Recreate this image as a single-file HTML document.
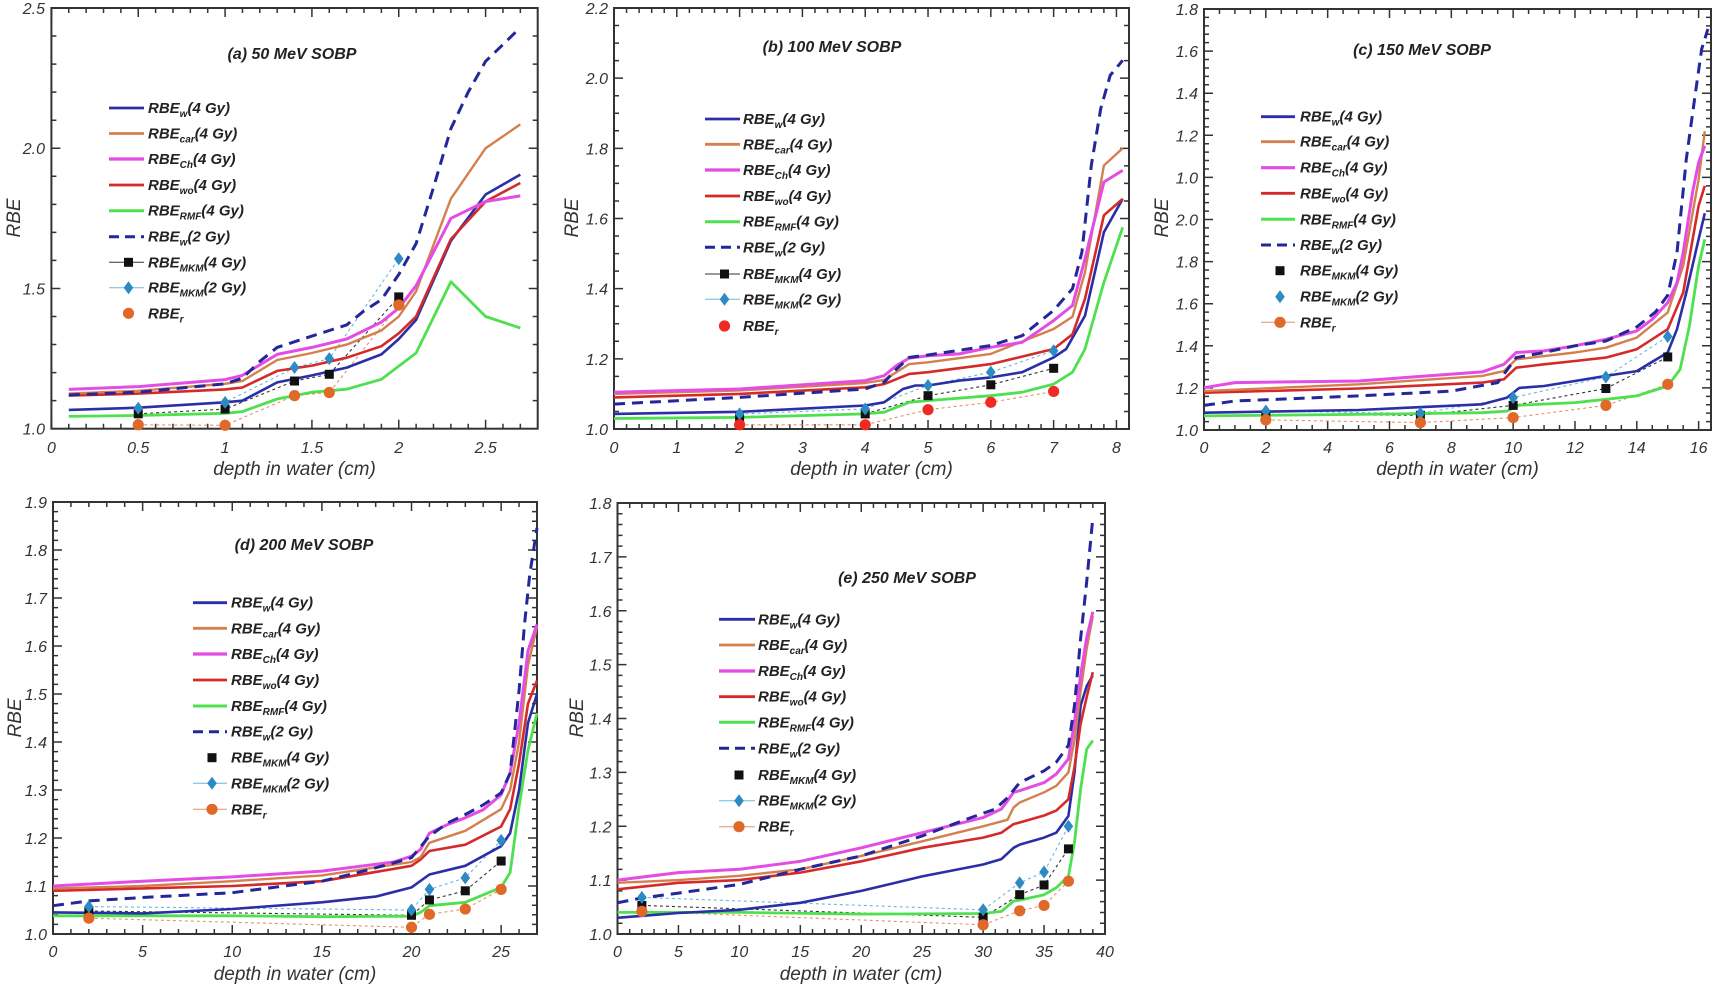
<!DOCTYPE html>
<html><head><meta charset="utf-8"><style>
html,body{margin:0;padding:0;background:#fff;}
svg{display:block;}
.t{font-family:"Liberation Sans",Arial,sans-serif;font-style:italic;font-size:16px;fill:#333;}
.xl{text-anchor:middle;}
.yl{text-anchor:end;}
.ax{font-family:"Liberation Sans",Arial,sans-serif;font-style:italic;font-size:19px;fill:#333;text-anchor:middle;}
.ti{font-family:"Liberation Sans",Arial,sans-serif;font-style:italic;font-weight:bold;font-size:16px;fill:#222;text-anchor:middle;}
.lg{font-family:"Liberation Sans",Arial,sans-serif;font-style:italic;font-weight:bold;font-size:15px;fill:#222;}
.sb{font-size:10px;}
</style></head><body>
<svg id="s" xmlns="http://www.w3.org/2000/svg" width="1716" height="987" viewBox="0 0 1716 987">
<rect width="1716" height="987" fill="#fff"/>
<g id="geom"></g>
<g id="txt">
<!-- Panel A -->
<text class="t xl" x="51.4" y="453">0</text><text class="t xl" x="138.3" y="453">0.5</text><text class="t xl" x="225.1" y="453">1</text><text class="t xl" x="312" y="453">1.5</text><text class="t xl" x="398.8" y="453">2</text><text class="t xl" x="485.7" y="453">2.5</text>
<text class="t yl" x="45" y="14">2.5</text><text class="t yl" x="45" y="154.2">2.0</text><text class="t yl" x="45" y="294.5">1.5</text><text class="t yl" x="45" y="434.7">1.0</text>
<text class="ax" x="294.5" y="475">depth in water (cm)</text>
<text class="ax" transform="translate(20,218) rotate(-90)">RBE</text>
<text class="ti" x="292" y="59">(a) 50 MeV SOBP</text>
<!-- Panel B -->
<text class="t xl" x="614" y="453">0</text><text class="t xl" x="676.8" y="453">1</text><text class="t xl" x="739.6" y="453">2</text><text class="t xl" x="802.4" y="453">3</text><text class="t xl" x="865.2" y="453">4</text><text class="t xl" x="928" y="453">5</text><text class="t xl" x="990.8" y="453">6</text><text class="t xl" x="1053.6" y="453">7</text><text class="t xl" x="1116.4" y="453">8</text>
<text class="t yl" x="608" y="14">2.2</text><text class="t yl" x="608" y="84.2">2.0</text><text class="t yl" x="608" y="154.3">1.8</text><text class="t yl" x="608" y="224.5">1.6</text><text class="t yl" x="608" y="294.7">1.4</text><text class="t yl" x="608" y="364.8">1.2</text><text class="t yl" x="608" y="435">1.0</text>
<text class="ax" x="871.5" y="475">depth in water (cm)</text>
<text class="ax" transform="translate(578,218) rotate(-90)">RBE</text>
<text class="ti" x="832" y="52">(b) 100 MeV SOBP</text>
<!-- Panel C -->
<text class="t xl" x="1204" y="453">0</text><text class="t xl" x="1265.8" y="453">2</text><text class="t xl" x="1327.6" y="453">4</text><text class="t xl" x="1389.5" y="453">6</text><text class="t xl" x="1451.3" y="453">8</text><text class="t xl" x="1513.1" y="453">10</text><text class="t xl" x="1574.9" y="453">12</text><text class="t xl" x="1636.7" y="453">14</text><text class="t xl" x="1698.6" y="453">16</text>
<text class="t yl" x="1198" y="15">1.8</text><text class="t yl" x="1198" y="57.1">1.6</text><text class="t yl" x="1198" y="99.2">1.4</text><text class="t yl" x="1198" y="141.3">1.2</text><text class="t yl" x="1198" y="183.4">1.0</text><text class="t yl" x="1198" y="225.5">2.0</text><text class="t yl" x="1198" y="267.6">1.8</text><text class="t yl" x="1198" y="309.7">1.6</text><text class="t yl" x="1198" y="351.8">1.4</text><text class="t yl" x="1198" y="393.9">1.2</text><text class="t yl" x="1198" y="436">1.0</text>
<text class="ax" x="1457.5" y="475">depth in water (cm)</text>
<text class="ax" transform="translate(1168,218) rotate(-90)">RBE</text>
<text class="ti" x="1422" y="55">(c) 150 MeV SOBP</text>
<!-- Panel D -->
<text class="t xl" x="53" y="957">0</text><text class="t xl" x="142.6" y="957">5</text><text class="t xl" x="232.3" y="957">10</text><text class="t xl" x="321.9" y="957">15</text><text class="t xl" x="411.5" y="957">20</text><text class="t xl" x="501.1" y="957">25</text>
<text class="t yl" x="47" y="508">1.9</text><text class="t yl" x="47" y="556">1.8</text><text class="t yl" x="47" y="604">1.7</text><text class="t yl" x="47" y="652">1.6</text><text class="t yl" x="47" y="700">1.5</text><text class="t yl" x="47" y="748">1.4</text><text class="t yl" x="47" y="796">1.3</text><text class="t yl" x="47" y="844">1.2</text><text class="t yl" x="47" y="892">1.1</text><text class="t yl" x="47" y="940">1.0</text>
<text class="ax" x="295" y="980">depth in water (cm)</text>
<text class="ax" transform="translate(21,718) rotate(-90)">RBE</text>
<text class="ti" x="304" y="550">(d) 200 MeV SOBP</text>
<!-- Panel E -->
<text class="t xl" x="617.5" y="957">0</text><text class="t xl" x="678.4" y="957">5</text><text class="t xl" x="739.4" y="957">10</text><text class="t xl" x="800.3" y="957">15</text><text class="t xl" x="861.3" y="957">20</text><text class="t xl" x="922.2" y="957">25</text><text class="t xl" x="983.1" y="957">30</text><text class="t xl" x="1044.1" y="957">35</text><text class="t xl" x="1105" y="957">40</text>
<text class="t yl" x="611.5" y="509">1.8</text><text class="t yl" x="611.5" y="562.9">1.7</text><text class="t yl" x="611.5" y="616.8">1.6</text><text class="t yl" x="611.5" y="670.6">1.5</text><text class="t yl" x="611.5" y="724.5">1.4</text><text class="t yl" x="611.5" y="778.4">1.3</text><text class="t yl" x="611.5" y="832.3">1.2</text><text class="t yl" x="611.5" y="886.1">1.1</text><text class="t yl" x="611.5" y="940">1.0</text>
<text class="ax" x="861" y="980">depth in water (cm)</text>
<text class="ax" transform="translate(583,718) rotate(-90)">RBE</text>
<text class="ti" x="907" y="583">(e) 250 MeV SOBP</text>

<!-- Legend A -->
<g class="lg">
<text x="148" y="113">RBE<tspan class="sb" dy="4">w</tspan><tspan dy="-4">(4 Gy)</tspan></text>
<text x="148" y="138.5">RBE<tspan class="sb" dy="4">car</tspan><tspan dy="-4">(4 Gy)</tspan></text>
<text x="148" y="164">RBE<tspan class="sb" dy="4">Ch</tspan><tspan dy="-4">(4 Gy)</tspan></text>
<text x="148" y="190">RBE<tspan class="sb" dy="4">wo</tspan><tspan dy="-4">(4 Gy)</tspan></text>
<text x="148" y="215.7">RBE<tspan class="sb" dy="4">RMF</tspan><tspan dy="-4">(4 Gy)</tspan></text>
<text x="148" y="241.7">RBE<tspan class="sb" dy="4">w</tspan><tspan dy="-4">(2 Gy)</tspan></text>
<text x="148" y="267.3">RBE<tspan class="sb" dy="4">MKM</tspan><tspan dy="-4">(4 Gy)</tspan></text>
<text x="148" y="292.7">RBE<tspan class="sb" dy="4">MKM</tspan><tspan dy="-4">(2 Gy)</tspan></text>
<text x="148" y="318.3">RBE<tspan class="sb" dy="4">r</tspan></text>
</g>
<!-- Legend B -->
<g class="lg">
<text x="743" y="124">RBE<tspan class="sb" dy="4">w</tspan><tspan dy="-4">(4 Gy)</tspan></text>
<text x="743" y="149.3">RBE<tspan class="sb" dy="4">car</tspan><tspan dy="-4">(4 Gy)</tspan></text>
<text x="743" y="175">RBE<tspan class="sb" dy="4">Ch</tspan><tspan dy="-4">(4 Gy)</tspan></text>
<text x="743" y="201">RBE<tspan class="sb" dy="4">wo</tspan><tspan dy="-4">(4 Gy)</tspan></text>
<text x="743" y="226.7">RBE<tspan class="sb" dy="4">RMF</tspan><tspan dy="-4">(4 Gy)</tspan></text>
<text x="743" y="252.3">RBE<tspan class="sb" dy="4">w</tspan><tspan dy="-4">(2 Gy)</tspan></text>
<text x="743" y="279">RBE<tspan class="sb" dy="4">MKM</tspan><tspan dy="-4">(4 Gy)</tspan></text>
<text x="743" y="304.3">RBE<tspan class="sb" dy="4">MKM</tspan><tspan dy="-4">(2 Gy)</tspan></text>
<text x="743" y="331">RBE<tspan class="sb" dy="4">r</tspan></text>
</g>
<!-- Legend C -->
<g class="lg">
<text x="1300" y="121.7">RBE<tspan class="sb" dy="4">w</tspan><tspan dy="-4">(4 Gy)</tspan></text>
<text x="1300" y="146.7">RBE<tspan class="sb" dy="4">car</tspan><tspan dy="-4">(4 Gy)</tspan></text>
<text x="1300" y="172.7">RBE<tspan class="sb" dy="4">Ch</tspan><tspan dy="-4">(4 Gy)</tspan></text>
<text x="1300" y="198.3">RBE<tspan class="sb" dy="4">wo</tspan><tspan dy="-4">(4 Gy)</tspan></text>
<text x="1300" y="224.3">RBE<tspan class="sb" dy="4">RMF</tspan><tspan dy="-4">(4 Gy)</tspan></text>
<text x="1300" y="250">RBE<tspan class="sb" dy="4">w</tspan><tspan dy="-4">(2 Gy)</tspan></text>
<text x="1300" y="275.7">RBE<tspan class="sb" dy="4">MKM</tspan><tspan dy="-4">(4 Gy)</tspan></text>
<text x="1300" y="301.7">RBE<tspan class="sb" dy="4">MKM</tspan><tspan dy="-4">(2 Gy)</tspan></text>
<text x="1300" y="327.3">RBE<tspan class="sb" dy="4">r</tspan></text>
</g>
<!-- Legend D -->
<g class="lg">
<text x="231" y="607.7">RBE<tspan class="sb" dy="4">w</tspan><tspan dy="-4">(4 Gy)</tspan></text>
<text x="231" y="633.3">RBE<tspan class="sb" dy="4">car</tspan><tspan dy="-4">(4 Gy)</tspan></text>
<text x="231" y="659">RBE<tspan class="sb" dy="4">Ch</tspan><tspan dy="-4">(4 Gy)</tspan></text>
<text x="231" y="685">RBE<tspan class="sb" dy="4">wo</tspan><tspan dy="-4">(4 Gy)</tspan></text>
<text x="231" y="711">RBE<tspan class="sb" dy="4">RMF</tspan><tspan dy="-4">(4 Gy)</tspan></text>
<text x="231" y="736.7">RBE<tspan class="sb" dy="4">w</tspan><tspan dy="-4">(2 Gy)</tspan></text>
<text x="231" y="762.7">RBE<tspan class="sb" dy="4">MKM</tspan><tspan dy="-4">(4 Gy)</tspan></text>
<text x="231" y="788.3">RBE<tspan class="sb" dy="4">MKM</tspan><tspan dy="-4">(2 Gy)</tspan></text>
<text x="231" y="814.3">RBE<tspan class="sb" dy="4">r</tspan></text>
</g>
<!-- Legend E -->
<g class="lg">
<text x="758" y="624.3">RBE<tspan class="sb" dy="4">w</tspan><tspan dy="-4">(4 Gy)</tspan></text>
<text x="758" y="650">RBE<tspan class="sb" dy="4">car</tspan><tspan dy="-4">(4 Gy)</tspan></text>
<text x="758" y="676">RBE<tspan class="sb" dy="4">Ch</tspan><tspan dy="-4">(4 Gy)</tspan></text>
<text x="758" y="701.7">RBE<tspan class="sb" dy="4">wo</tspan><tspan dy="-4">(4 Gy)</tspan></text>
<text x="758" y="727.3">RBE<tspan class="sb" dy="4">RMF</tspan><tspan dy="-4">(4 Gy)</tspan></text>
<text x="758" y="753.3">RBE<tspan class="sb" dy="4">w</tspan><tspan dy="-4">(2 Gy)</tspan></text>
<text x="758" y="780">RBE<tspan class="sb" dy="4">MKM</tspan><tspan dy="-4">(4 Gy)</tspan></text>
<text x="758" y="805.7">RBE<tspan class="sb" dy="4">MKM</tspan><tspan dy="-4">(2 Gy)</tspan></text>
<text x="758" y="831.7">RBE<tspan class="sb" dy="4">r</tspan></text>
</g>
</g>
</svg>
<script>
(function(){
var NS='http://www.w3.org/2000/svg';
var G=document.getElementById('geom');
function el(tag,a,parent){var e=document.createElementNS(NS,tag);for(var k in a)e.setAttribute(k,a[k]);(parent||G).appendChild(e);return e;}
var C={blue:'#2a2fa8',orange:'#d4804e',mag:'#e44ce6',red:'#d42a2a',green:'#4ee04e',dash:'#23279a',dia:'#2c8ac4',circ:'#e0692a',circB:'#ee2a22',sq:'#111'};

var P={
A:{L:51.4,R:537.7,T:8,B:428.7,x0:0,x1:2.8,y0:1,y1:2.5,xmin:0.1,xmaj:0.5,ymin:0.1,ymaj:0.5,
 green:[[0.1,1.044],[0.5,1.047],[1.0,1.055],[1.1,1.061],[1.3,1.106],[1.5,1.13],[1.7,1.141],[1.9,1.176],[2.1,1.27],[2.3,1.524],[2.5,1.40],[2.7,1.359]],
 blue:[[0.1,1.067],[0.5,1.075],[1.0,1.094],[1.1,1.10],[1.3,1.165],[1.5,1.19],[1.7,1.218],[1.9,1.265],[2.0,1.32],[2.1,1.388],[2.3,1.67],[2.5,1.835],[2.7,1.906]],
 red:[[0.1,1.118],[0.5,1.125],[1.0,1.14],[1.1,1.147],[1.3,1.206],[1.5,1.225],[1.7,1.253],[1.9,1.294],[2.0,1.34],[2.1,1.40],[2.3,1.676],[2.5,1.81],[2.7,1.876]],
 orange:[[0.1,1.125],[0.5,1.135],[1.0,1.16],[1.1,1.17],[1.3,1.245],[1.5,1.27],[1.7,1.30],[1.9,1.35],[2.0,1.40],[2.1,1.49],[2.3,1.82],[2.5,2.0],[2.7,2.085]],
 mag:[[0.1,1.14],[0.5,1.15],[1.0,1.175],[1.1,1.19],[1.3,1.265],[1.5,1.29],[1.7,1.32],[1.9,1.38],[2.0,1.43],[2.1,1.51],[2.3,1.75],[2.5,1.81],[2.7,1.83]],
 dash:[[0.1,1.12],[0.5,1.13],[1.0,1.16],[1.1,1.18],[1.2,1.24],[1.3,1.29],[1.5,1.33],[1.6,1.35],[1.7,1.37],[1.8,1.42],[1.9,1.46],[2.0,1.55],[2.1,1.66],[2.2,1.86],[2.3,2.07],[2.4,2.2],[2.5,2.31],[2.6,2.37],[2.7,2.43]],
 m4:[[0.5,1.053],[1.0,1.07],[1.4,1.17],[1.6,1.194],[2.0,1.47]],
 m2:[[0.5,1.073],[1.0,1.094],[1.4,1.218],[1.6,1.25],[2.0,1.606]],
 r:[[0.5,1.014],[1.0,1.012],[1.4,1.118],[1.6,1.129],[2.0,1.441]],
 leg:{x1:109,x2:144,rows:[108,133.5,159,185,210.7,236.7,262.3,287.7,313.3],m4:'line',m2:'line',r:'none',rc:C.circ}},
B:{L:614,R:1129,T:8,B:429,x0:0,x1:8.2,y0:1,y1:2.2,xmin:0.2,xmaj:1,ymin:0.05,ymaj:0.2,
 green:[[0,1.03],[2,1.033],[4,1.043],[4.3,1.048],[4.7,1.076],[5,1.081],[6,1.095],[6.5,1.105],[7,1.128],[7.3,1.162],[7.5,1.228],[7.8,1.418],[8.1,1.575]],
 blue:[[0,1.043],[2,1.049],[4,1.067],[4.3,1.076],[4.6,1.114],[4.8,1.124],[5,1.124],[5.5,1.138],[6,1.147],[6.5,1.162],[7,1.204],[7.2,1.228],[7.5,1.323],[7.8,1.561],[8.1,1.656]],
 red:[[0,1.09],[2,1.10],[4,1.119],[4.3,1.128],[4.7,1.157],[5,1.162],[6,1.185],[7,1.228],[7.3,1.27],[7.5,1.371],[7.8,1.609],[8.1,1.656]],
 orange:[[0,1.10],[2,1.11],[4,1.131],[4.3,1.14],[4.7,1.185],[5,1.19],[6,1.214],[7,1.285],[7.3,1.32],[7.5,1.447],[7.8,1.751],[8.1,1.80]],
 mag:[[0,1.105],[2,1.114],[4,1.138],[4.3,1.152],[4.5,1.181],[4.7,1.202],[5,1.209],[5.5,1.214],[6,1.233],[6.5,1.247],[7,1.309],[7.3,1.352],[7.5,1.485],[7.8,1.704],[8.1,1.737]],
 dash:[[0,1.071],[2,1.09],[4,1.114],[4.3,1.133],[4.5,1.171],[4.7,1.204],[5,1.211],[6,1.238],[6.5,1.266],[7,1.338],[7.3,1.40],[7.45,1.504],[7.6,1.751],[7.75,1.913],[7.9,2.008],[8.1,2.051]],
 m4:[[2,1.035],[4,1.043],[5,1.095],[6,1.126],[7,1.173]],
 m2:[[2,1.043],[4,1.057],[5,1.124],[6,1.162],[7,1.223]],
 r:[[2,1.012],[4,1.012],[5,1.055],[6,1.076],[7,1.107]],
 leg:{x1:705,x2:740,rows:[119,144.3,170,196,221.7,247.3,274,299.3,326],m4:'line',m2:'line',r:'none',rc:C.circB}},
C:{L:1204,R:1711,T:9,B:430,x0:0,x1:16.4,y0:1,y1:3.0,xmin:0.5,xmaj:2,ymin:0.04,ymaj:0.2,
 green:[[0,1.067],[5,1.074],[9,1.082],[9.8,1.09],[10.2,1.118],[12,1.13],[13,1.146],[14,1.162],[15,1.209],[15.4,1.288],[15.7,1.494],[16,1.78],[16.2,1.906]],
 blue:[[0,1.082],[5,1.095],[9,1.122],[9.8,1.154],[10.2,1.20],[11,1.209],[12,1.233],[13,1.257],[14,1.28],[15,1.368],[15.3,1.479],[15.6,1.653],[16,1.906],[16.2,2.03]],
 red:[[0,1.177],[5,1.197],[9,1.225],[9.7,1.241],[10.1,1.296],[11,1.312],[12,1.328],[13,1.344],[14,1.384],[15,1.479],[15.5,1.653],[16,2.065],[16.2,2.16]],
 orange:[[0,1.185],[5,1.217],[9,1.257],[9.7,1.28],[10.1,1.336],[12,1.368],[13,1.391],[14,1.439],[15,1.558],[15.5,1.78],[16,2.19],[16.2,2.42]],
 mag:[[0,1.201],[1,1.225],[5,1.233],[9,1.276],[9.7,1.312],[10.1,1.368],[11,1.376],[12,1.40],[13,1.431],[14,1.471],[14.5,1.526],[15,1.605],[15.3,1.70],[15.5,1.843],[15.8,2.128],[16,2.271],[16.2,2.35]],
 dash:[[0,1.117],[1,1.138],[5,1.162],[8,1.185],[9.5,1.225],[10.1,1.344],[11,1.368],[12,1.40],[13,1.423],[14,1.49],[14.6,1.56],[15,1.64],[15.3,1.843],[15.6,2.287],[15.9,2.604],[16.1,2.81],[16.3,2.905]],
 m4:[[2,1.074],[7,1.07],[10,1.117],[13,1.197],[15,1.347]],
 m2:[[2,1.09],[7,1.079],[10,1.154],[13,1.252],[15,1.444]],
 r:[[2,1.048],[7,1.035],[10,1.059],[13,1.117],[15,1.217]],
 leg:{x1:1261,x2:1295,rows:[116.7,141.7,167.7,193.3,219.3,245,270.7,296.7,322.3],m4:'none',m2:'none',r:'line',rc:C.circ}},
D:{L:53,R:537,T:502,B:934,x0:0,x1:27,y0:1,y1:1.9,xmin:1,xmaj:5,ymin:0.02,ymaj:0.1,
 green:[[0,1.038],[10,1.038],[15,1.036],[20,1.037],[20.5,1.045],[21,1.059],[23,1.066],[25,1.097],[25.5,1.128],[26,1.266],[26.5,1.383],[27,1.46]],
 blue:[[0,1.045],[5,1.043],[10,1.052],[15,1.066],[18,1.078],[20,1.097],[21,1.124],[23,1.142],[25,1.183],[25.5,1.21],[26,1.30],[26.5,1.44],[27,1.50]],
 red:[[0,1.09],[5,1.095],[10,1.10],[15,1.11],[20,1.142],[20.5,1.155],[21,1.173],[23,1.186],[25,1.224],[25.5,1.26],[26,1.356],[26.5,1.48],[27,1.528]],
 orange:[[0,1.095],[5,1.10],[10,1.11],[15,1.122],[20,1.15],[20.5,1.16],[21,1.19],[23,1.215],[25,1.26],[25.5,1.30],[26,1.40],[26.5,1.56],[27,1.64]],
 mag:[[0,1.10],[5,1.11],[10,1.119],[15,1.131],[19,1.15],[20,1.162],[20.5,1.176],[21,1.21],[22,1.228],[23,1.242],[24,1.259],[25,1.29],[25.5,1.335],[26,1.44],[26.5,1.59],[27,1.645]],
 dash:[[0,1.059],[2,1.069],[5,1.076],[10,1.086],[15,1.11],[17,1.128],[19,1.148],[20,1.159],[21,1.204],[22,1.231],[23,1.249],[24,1.269],[25,1.294],[25.5,1.335],[26,1.508],[26.3,1.645],[26.6,1.75],[27,1.846]],
 m4:[[2,1.048],[20,1.039],[21,1.071],[23,1.09],[25,1.152]],
 m2:[[2,1.057],[20,1.05],[21,1.093],[23,1.117],[25,1.195]],
 r:[[2,1.033],[20,1.014],[21,1.041],[23,1.052],[25,1.093]],
 leg:{x1:193,x2:227,rows:[602.7,628.3,654,680,706,731.7,757.7,783.3,809.3],m4:'none',m2:'line',r:'line',rc:C.circ}},
E:{L:617.5,R:1105,T:503,B:934,x0:0,x1:40,y0:1,y1:1.8,xmin:1,xmaj:5,ymin:0.02,ymaj:0.1,
 green:[[0,1.04],[10,1.04],[20,1.037],[30,1.038],[31.5,1.042],[32.5,1.061],[33,1.063],[35,1.073],[36,1.086],[37,1.107],[37.5,1.17],[38,1.269],[38.5,1.343],[39,1.359]],
 blue:[[0,1.03],[5,1.039],[10,1.045],[15,1.058],[20,1.08],[25,1.107],[30,1.129],[31.5,1.139],[32.5,1.16],[33,1.166],[35,1.179],[36,1.188],[37,1.219],[37.5,1.30],[38,1.424],[38.5,1.46],[39,1.48]],
 red:[[0,1.083],[5,1.095],[10,1.10],[15,1.114],[20,1.135],[25,1.16],[30,1.179],[31.5,1.188],[32.5,1.204],[33,1.207],[35,1.22],[36,1.229],[37,1.25],[37.5,1.31],[38,1.39],[38.5,1.44],[39,1.486]],
 orange:[[0,1.095],[5,1.10],[10,1.108],[15,1.12],[20,1.145],[25,1.172],[30,1.20],[32,1.212],[32.5,1.235],[33,1.244],[35,1.263],[36,1.275],[37,1.30],[37.5,1.36],[38,1.45],[38.5,1.53],[39,1.59]],
 mag:[[0,1.10],[5,1.114],[10,1.12],[15,1.135],[20,1.16],[25,1.188],[30,1.216],[31.5,1.232],[32,1.247],[32.5,1.263],[33,1.266],[35,1.281],[36,1.297],[37,1.325],[37.5,1.393],[38,1.48],[38.5,1.55],[39,1.598]],
 dash:[[0,1.058],[2,1.067],[5,1.076],[10,1.092],[15,1.12],[20,1.145],[25,1.182],[29,1.216],[31,1.232],[32,1.253],[33,1.281],[35,1.303],[36,1.319],[37,1.35],[37.5,1.424],[38,1.548],[38.5,1.654],[39,1.772]],
 m4:[[2,1.053],[30,1.031],[33,1.073],[35,1.091],[37,1.158]],
 m2:[[2,1.068],[30,1.045],[33,1.095],[35,1.115],[37,1.20]],
 r:[[2,1.042],[30,1.017],[33,1.043],[35,1.053],[37,1.098]],
 leg:{x1:719,x2:755,rows:[619.3,645,671,696.7,722.3,748.3,775,800.7,826.7],m4:'none',m2:'line',r:'line',rc:C.circ}}
};

function sq(x,y,s){el('rect',{x:x-s/2,y:y-s/2,width:s,height:s,fill:C.sq});}
function dia(x,y){el('polygon',{points:(x)+','+(y-6.5)+' '+(x+4.8)+','+y+' '+x+','+(y+6.5)+' '+(x-4.8)+','+y,fill:C.dia});}
function circ(x,y,c){el('circle',{cx:x,cy:y,r:5.6,fill:c});}

for(var key in P){
 var p=P[key];
 var sx=(function(p){return function(x){return p.L+(x-p.x0)/(p.x1-p.x0)*(p.R-p.L);};})(p);
 var sy=(function(p){return function(y){return p.B-(y-p.y0)/(p.y1-p.y0)*(p.B-p.T);};})(p);
 var tk='';
 var nx=Math.round((p.x1-p.x0)/p.xmin+1e-6);
 for(var i=0;i<=nx;i++){var x=p.x0+i*p.xmin;if(x>p.x1+1e-9)break;var r=x/p.xmaj;var maj=Math.abs(r-Math.round(r))<1e-6;var len=maj?9:5;var X=sx(x).toFixed(2);
  tk+='M'+X+' '+p.B+'V'+(p.B-len)+'M'+X+' '+p.T+'V'+(p.T+len);}
 var ny=Math.round((p.y1-p.y0)/p.ymin+1e-6);
 for(var j=0;j<=ny;j++){var y=p.y0+j*p.ymin;var r2=(y-p.y0)/p.ymaj;var maj2=Math.abs(r2-Math.round(r2))<1e-6;var l2=maj2?9:5;var Y=sy(y).toFixed(2);
  tk+='M'+p.L+' '+Y+'H'+(p.L+l2)+'M'+p.R+' '+Y+'H'+(p.R-l2);}
 el('path',{d:tk,stroke:'#333','stroke-width':1.5,fill:'none'});
 el('rect',{x:p.L,y:p.T,width:p.R-p.L,height:p.B-p.T,fill:'none',stroke:'#333','stroke-width':2});
 function pts(a){return a.map(function(q){return sx(q[0]).toFixed(1)+','+sy(q[1]).toFixed(1);}).join(' ');}
 el('polyline',{points:pts(p.r),fill:'none',stroke:'#e8906a','stroke-width':1.1,'stroke-dasharray':'3,3'});
 el('polyline',{points:pts(p.m2),fill:'none',stroke:'#6ab8e0','stroke-width':1.1,'stroke-dasharray':'3,3'});
 el('polyline',{points:pts(p.m4),fill:'none',stroke:'#333','stroke-width':1.1,'stroke-dasharray':'3,3'});
 el('polyline',{points:pts(p.green),fill:'none',stroke:C.green,'stroke-width':2.8,'stroke-linejoin':'round'});
 el('polyline',{points:pts(p.blue),fill:'none',stroke:C.blue,'stroke-width':2.6,'stroke-linejoin':'round'});
 el('polyline',{points:pts(p.red),fill:'none',stroke:C.red,'stroke-width':2.6,'stroke-linejoin':'round'});
 el('polyline',{points:pts(p.orange),fill:'none',stroke:C.orange,'stroke-width':2.4,'stroke-linejoin':'round'});
 el('polyline',{points:pts(p.mag),fill:'none',stroke:C.mag,'stroke-width':3,'stroke-linejoin':'round'});
 el('polyline',{points:pts(p.dash),fill:'none',stroke:C.dash,'stroke-width':3,'stroke-dasharray':'11,7'});
 var rc=p.leg.rc;
 p.m4.forEach(function(q){sq(sx(q[0]),sy(q[1]),9);});
 p.m2.forEach(function(q){dia(sx(q[0]),sy(q[1]));});
 p.r.forEach(function(q){circ(sx(q[0]),sy(q[1]),rc);});
 var L=p.leg,x1=L.x1,x2=L.x2,xm=(x1+x2)/2,R=L.rows;
 el('line',{x1:x1,y1:R[0],x2:x2,y2:R[0],stroke:C.blue,'stroke-width':2.8});
 el('line',{x1:x1,y1:R[1],x2:x2,y2:R[1],stroke:C.orange,'stroke-width':2.8});
 el('line',{x1:x1,y1:R[2],x2:x2,y2:R[2],stroke:C.mag,'stroke-width':3.2});
 el('line',{x1:x1,y1:R[3],x2:x2,y2:R[3],stroke:C.red,'stroke-width':2.8});
 el('line',{x1:x1,y1:R[4],x2:x2,y2:R[4],stroke:C.green,'stroke-width':3});
 el('line',{x1:x1,y1:R[5],x2:x2,y2:R[5],stroke:C.dash,'stroke-width':3,'stroke-dasharray':'10,6'});
 if(L.m4=='line')el('line',{x1:x1,y1:R[6],x2:x2,y2:R[6],stroke:'#333','stroke-width':1});
 sq(xm+2,R[6],9);
 if(L.m2=='line')el('line',{x1:x1,y1:R[7],x2:x2,y2:R[7],stroke:'#6ab8e0','stroke-width':1});
 dia(xm+2,R[7]);
 if(L.r=='line')el('line',{x1:x1,y1:R[8],x2:x2,y2:R[8],stroke:'#e8906a','stroke-width':1});
 circ(xm+2,R[8],rc);
}
})();
</script>
</body></html>
